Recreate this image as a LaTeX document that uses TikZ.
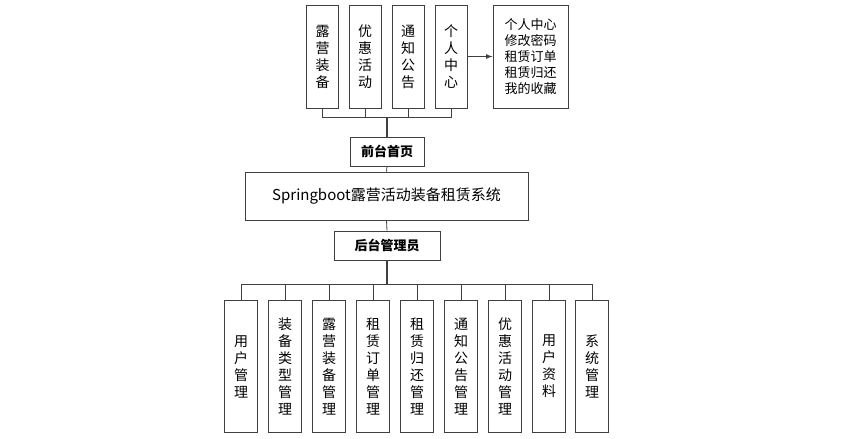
\documentclass[tikz,border=0pt]{standalone}
\usepackage{fontspec}
\setmainfont{Noto Sans CJK SC}
\begin{document}
\begin{tikzpicture}[x=1pt,y=-1pt,
 bx/.style={draw=black!75,line width=1pt,fill=white,inner sep=0pt},
 ln/.style={draw=black!75,line width=0.8pt},
 vt/.style={font=\fontsize{14}{17}\selectfont,align=center}]
\useasboundingbox[fill=white] (0,0) rectangle (847,439);
% top
\foreach \n/\x/\t in {a/322.5/露\\营\\装\\备, b/365/优\\惠\\活\\动, c/408/通\\知\\公\\告, d/451/个\\人\\中\\心}{
 \node[bx,minimum width=32pt,minimum height=103pt,vt] (\n) at (\x,56.5) {\t};
}
\node[bx,minimum width=75pt,minimum height=103pt,align=left,font=\fontsize{13}{16}\selectfont] (r) at (530.5,56.5) {个人中心\\修改密码\\租赁订单\\租赁归还\\我的收藏};
\draw[ln,line width=1.2pt,-latex] (d.east) -- (r.west);
\node[bx,minimum width=74pt,minimum height=29pt,font=\bfseries\fontsize{13}{16}\selectfont] (q) at (387,151.5) {前台首页};
\node[bx,minimum width=283pt,minimum height=48pt,font=\fontsize{15}{18}\selectfont] (m) at (386.5,196) {Springboot露营活动装备租赁系统};
\node[bx,minimum width=106pt,minimum height=29pt,font=\bfseries\fontsize{13}{16}\selectfont] (h) at (387,245.5) {后台管理员};
\coordinate (t1) at (387,117);
\draw[ln] (a.south) |- (t1) (b.south) |- (t1) (c.south) |- (t1) (d.south) |- (t1);
\draw[ln,line width=1.5pt] (t1) -- (q.north);
\draw[ln] (q.south) -- (m.north) (m.south) -- (h.north);
\coordinate (t2) at (387,284);
\draw[ln,line width=1.5pt] (h.south) -- (t2);
\foreach \n/\x/\t in {p1/241/用\\户\\管\\理, p2/285/装\\备\\类\\型\\管\\理, p3/329/露\\营\\装\\备\\管\\理, p4/373/租\\赁\\订\\单\\管\\理, p5/417/租\\赁\\归\\还\\管\\理, p6/461/通\\知\\公\\告\\管\\理, p7/505/优\\惠\\活\\动\\管\\理, p8/549/用\\户\\资\\料, p9/592/系\\统\\管\\理}{
 \node[bx,minimum width=33pt,minimum height=132pt,vt,anchor=north] (\n) at (\x,300) {\t};
 \draw[ln] (t2) -| (\n.north);
}
\end{tikzpicture}
\end{document}
